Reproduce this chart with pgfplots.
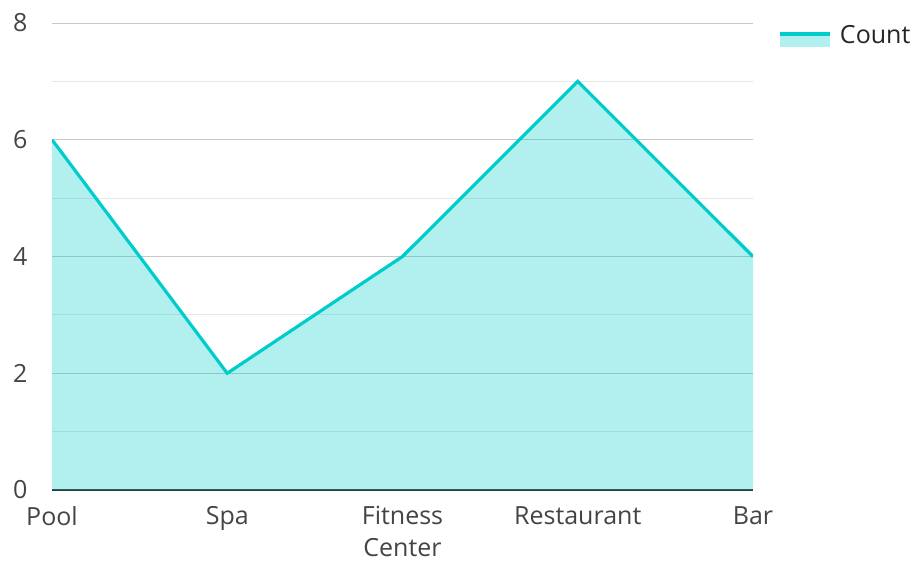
\documentclass[border=0pt]{standalone}
\usepackage{pgfplots}
\pgfplotsset{compat=1.18}
\usepackage{fontspec}
\setmainfont{Open Sans}
\definecolor{cline}{RGB}{0,204,204}
\definecolor{tlab}{RGB}{68,68,68}
\begin{document}
\begin{tikzpicture}
\useasboundingbox (0,0) rectangle (912pt,562pt);
\begin{axis}[
  at={(52pt,72pt)}, anchor=south west,
  scale only axis, width=701pt, height=467pt,
  xmin=0, xmax=4, ymin=0, ymax=8,
  xtick={0,1,2,3,4},
  xticklabels={Pool,Spa,Fitness\\Center,Restaurant,Bar},
  ytick={0,2,4,6,8},
  minor y tick num=1,
  ymajorgrids, yminorgrids,
  major grid style={draw={rgb,255:red,200;green,200;blue,200}, line width=1pt},
  minor grid style={draw={rgb,255:red,230;green,230;blue,230}, line width=1pt},
  major tick length=0pt, minor tick length=0pt,
  axis lines*=left,
  y axis line style={draw=none},
  x axis line style={draw={rgb,255:red,51;green,51;blue,51}, line width=2pt},
  tick label style={font=\fontsize{25}{32}\selectfont, text=tlab},
  /pgf/number format/assume math mode=true,
  xticklabel style={align=center, anchor=north, yshift=-13pt},
  yticklabel style={anchor=east, xshift=-21pt},
  legend style={at={(1.0365,1.0)}, anchor=north west, draw=none, fill=none,
    font=\fontsize{25}{30}\selectfont, text=black!85, inner sep=0pt,
    legend cell align=left},
  legend image code/.code={%
    \path[fill=cline, fill opacity=0.3, draw=none] (0pt,-12pt) rectangle (50pt,1pt);
    \path[draw=cline, line width=3.2pt] (0pt,1pt) -- (50pt,1pt);
  },
]
\addplot[draw=none, fill=cline, fill opacity=0.3, forget plot] coordinates {(0,6) (1,2) (2,4) (3,7) (4,4)} \closedcycle;
\addplot[draw=cline, line width=3.2pt] coordinates {(0,6) (1,2) (2,4) (3,7) (4,4)};
\addlegendentry{\hspace{6pt}Count}
\end{axis}
\end{tikzpicture}
\end{document}
